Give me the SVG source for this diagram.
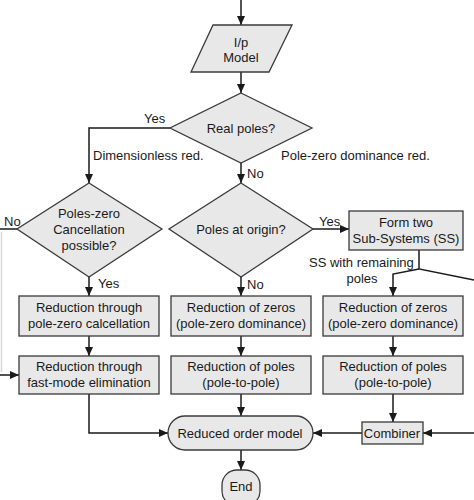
<svg xmlns="http://www.w3.org/2000/svg" width="474" height="500" viewBox="0 0 474 500">
<style>
.s{fill:#e8e8e8;stroke:#3a3a3a;stroke-width:1.3}
.t{font-family:"Liberation Sans",Arial,sans-serif;font-size:13px;fill:#1a1a1a;text-anchor:middle}
.l{font-family:"Liberation Sans",Arial,sans-serif;font-size:13px;fill:#1a1a1a}
.c{fill:none;stroke:#1a1a1a;stroke-width:1.5}
.a{marker-end:url(#ah)}
</style>
<defs>
<marker id="ah" markerUnits="userSpaceOnUse" markerWidth="10" markerHeight="8" refX="9" refY="4" orient="auto">
<path d="M0,0 L9,4 L0,8 Z" fill="#1a1a1a"/>
</marker>
</defs>
<rect width="474" height="500" fill="#ffffff"/>
<g id="connectors">
<path class="c a" d="M241,0 V25"/>
<path class="c a" d="M241,72 V93"/>
<path class="c a" d="M170,128 H89 V183"/>
<path class="c a" d="M241,163 V183"/>
<path class="c a" d="M313,229 H349"/>
<path class="c" d="M419,250 V269 L474,280"/>
<path class="c a" d="M419,269 L393,274 V296"/>
<path class="c" d="M17,229 H0"/>
<path d="M1.5,232 V372" fill="none" stroke="#d8d8d8" stroke-width="1.5"/>
<path class="c a" d="M0,375 H19"/>
<path class="c a" d="M89,277 V296"/>
<path class="c a" d="M241,277 V296"/>
<path class="c a" d="M89,336 V356"/>
<path class="c a" d="M241,336 V356"/>
<path class="c a" d="M393,336 V356"/>
<path class="c a" d="M89,394 V433 H168"/>
<path class="c a" d="M241,394 V416"/>
<path class="c a" d="M393,394 V422"/>
<path class="c a" d="M362,433 H313"/>
<path class="c a" d="M474,433 H423"/>
<path class="c a" d="M241,450 V470"/>
</g>
<g id="labels">
<text class="l" x="144" y="123">Yes</text>
<text class="l" x="93" y="160">Dimensionless red.</text>
<text class="l" x="281" y="160">Pole-zero dominance red.</text>
<text class="l" x="247" y="178">No</text>
<text class="l" x="4" y="226">No</text>
<text class="l" x="319" y="226">Yes</text>
<text class="l" x="309" y="267">SS with remaining</text>
<text class="t" x="362" y="283">poles</text>
<text class="l" x="98" y="288">Yes</text>
<text class="l" x="247" y="289">No</text>
</g>
<g id="input">
<polygon class="s" points="213,25 292,25 269,72 191,72"/>
<text class="t" x="241" y="47">I/p</text>
<text class="t" x="241" y="62">Model</text>
</g>
<g id="real-poles">
<polygon class="s" points="241,93 312,128 241,163 170,128"/>
<text class="t" x="241" y="133">Real poles?</text>
</g>
<g id="cancellation">
<polygon class="s" points="89,183 162,229 89,277 17,229"/>
<text class="t" x="89" y="218">Poles-zero</text>
<text class="t" x="89" y="234">Cancellation</text>
<text class="t" x="89" y="250">possible?</text>
</g>
<g id="origin">
<polygon class="s" points="241,183 313,229 241,277 169,229"/>
<text class="t" x="241" y="234">Poles at origin?</text>
</g>
<g id="form-ss">
<rect class="s" x="349" y="211" width="114" height="39"/>
<text class="t" x="406" y="227">Form two</text>
<text class="t" x="406" y="243">Sub-Systems (SS)</text>
</g>
<g id="red-cancel">
<rect class="s" x="19" y="296" width="140" height="40"/>
<text class="t" x="89" y="312">Reduction through</text>
<text class="t" x="89" y="328">pole-zero calcellation</text>
</g>
<g id="red-zeros-1">
<rect class="s" x="171" y="296" width="140" height="40"/>
<text class="t" x="241" y="312">Reduction of zeros</text>
<text class="t" x="241" y="328">(pole-zero dominance)</text>
</g>
<g id="red-zeros-2">
<rect class="s" x="323" y="296" width="140" height="40"/>
<text class="t" x="393" y="312">Reduction of zeros</text>
<text class="t" x="393" y="328">(pole-zero dominance)</text>
</g>
<g id="red-fast">
<rect class="s" x="19" y="356" width="140" height="38"/>
<text class="t" x="89" y="371">Reduction through</text>
<text class="t" x="89" y="387">fast-mode elimination</text>
</g>
<g id="red-poles-1">
<rect class="s" x="171" y="356" width="140" height="38"/>
<text class="t" x="241" y="371">Reduction of poles</text>
<text class="t" x="241" y="387">(pole-to-pole)</text>
</g>
<g id="red-poles-2">
<rect class="s" x="323" y="356" width="140" height="38"/>
<text class="t" x="393" y="371">Reduction of poles</text>
<text class="t" x="393" y="387">(pole-to-pole)</text>
</g>
<g id="reduced-model">
<rect class="s" x="168" y="416" width="145" height="34" rx="17"/>
<text class="t" x="240" y="438">Reduced order model</text>
</g>
<g id="combiner">
<rect class="s" x="362" y="422" width="61" height="22"/>
<text class="t" x="392" y="438">Combiner</text>
</g>
<g id="end">
<rect class="s" x="222" y="470" width="38" height="36" rx="15"/>
<text class="t" x="241" y="491">End</text>
</g>
</svg>
